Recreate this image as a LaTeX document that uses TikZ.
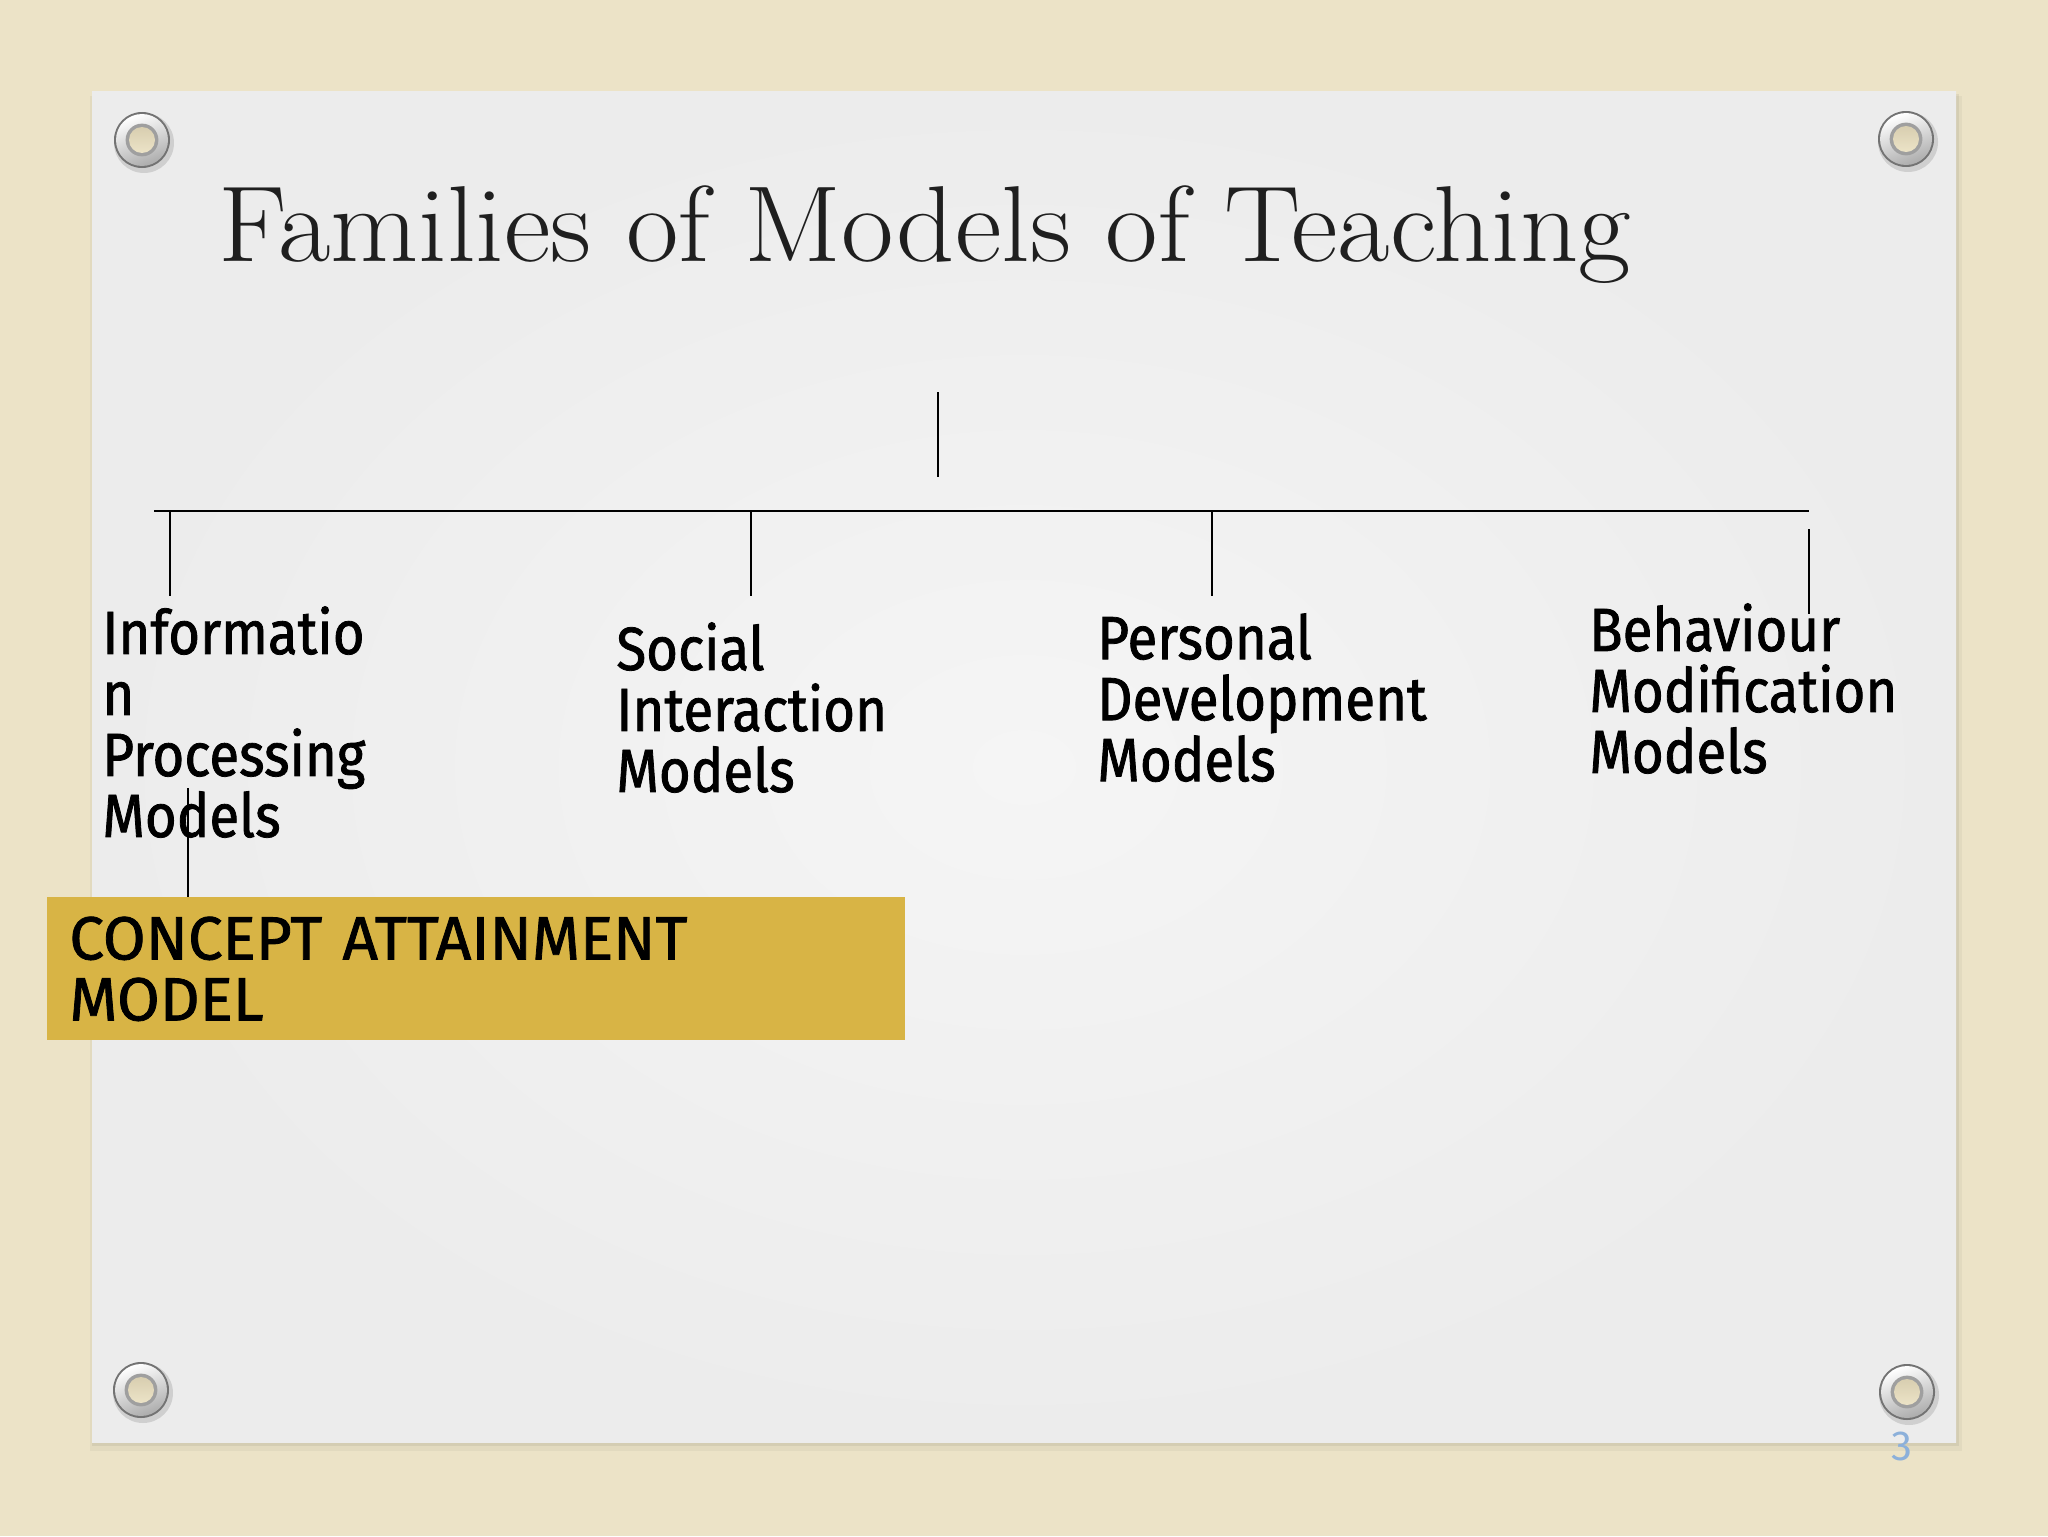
\documentclass[tikz,border=0pt]{standalone}
\usepackage{graphicx}
\usepackage{fontspec}
\newfontfamily\handfont[FakeStretch=0.895,FakeBold=1.3]{Fira Sans}
\newfontfamily\capsfont[FakeStretch=1.015,FakeBold=1.3]{Fira Sans}
\newfontfamily\numfont{Fira Sans}
\definecolor{canvas}{RGB}{236,227,199}
\definecolor{canvasdark}{RGB}{216,206,176}
\definecolor{slidein}{RGB}{245,245,245}
\definecolor{slideout}{RGB}{236,236,236}
\definecolor{gold}{RGB}{216,180,69}
\definecolor{pagenum}{RGB}{140,176,218}
\tikzset{
  lbl/.style={anchor=north west, inner sep=0pt, align=left, text=black,
    font=\handfont\fontsize{30.5}{30.5}\selectfont},
  conn/.style={draw=black, line width=0.75pt},
  bar/.style={draw=black, line width=1.2pt},
  goldbox/.style={anchor=north west, fill=gold, draw=none, inner xsep=11pt, inner ysep=0pt,
    text width=407pt, minimum height=71.5pt, align=left,
    font=\capsfont\fontsize{30.5}{30.5}\selectfont},
  titlefont/.style={anchor=base west, inner sep=0pt, font=\fontsize{54}{60}\selectfont, text=black!88}
}
\begin{document}
\begin{tikzpicture}[x=0.5pt,y=-0.5pt]
\useasboundingbox (0,0) rectangle (2048,1536);
% canvas background
\fill[canvas] (0,0) rectangle (2048,1536);
% slide shadow
\fill[black,opacity=0.04] (90,96) rectangle (1962,1451);
\fill[black,opacity=0.06] (92,94) rectangle (1959,1446);
% slide
\shade[inner color=slidein, outer color=slideout] (92,92) rectangle (1956,1442);
% grommets
\foreach \cx/\cy in {142/140, 1906/139, 141/1390, 1907/1392}{
  \fill[black,opacity=0.12] (\cx+2,\cy+3) circle (15pt);
  \fill[black!55] (\cx,\cy) circle (14pt);
  \shade[top color=white, bottom color=gray!65, shading angle=20] (\cx,\cy) circle (13pt);
  \fill[gray!75] (\cx,\cy) circle (8.2pt);
  \shade[top color=canvasdark, bottom color=canvas] (\cx,\cy) circle (6.5pt);
}
% title
\node[titlefont] (title) at (218,261) {\scalebox{1.057}[1]{Families of Models of Teaching}};
% tree skeleton coordinates
\coordinate (roottop) at (938,392);
\coordinate (rootbot) at (938,477);
\coordinate (barL) at (154,511);
\coordinate (barR) at (1809,511);
\coordinate (d1) at (170,511);
\coordinate (d2) at (751,511);
\coordinate (d3) at (1212,511);
\coordinate (d4) at (1809,529);
% labels
\node[lbl] (info) at (102,606) {Informatio\\n\\Processing\\Models};
\node[lbl] (social) at (616,622) {Social\\Interaction\\Models};
\node[lbl] (personal) at (1097,613) {Personal\\Development\\Models};
\node[lbl] (behav) at (1589,603) {Behaviour\\Modification\\Models};
% concept box
\node[goldbox] (concept) at (47,897) {CONCEPT ATTAINMENT\\MODEL};
% connectors
\draw[conn] (roottop) -- (rootbot);
\draw[bar] (barL) -- (barR);
\draw[conn] (d1) -- (170,596);
\draw[conn] (d2) -- (751,596);
\draw[conn] (d3) -- (1212,596);
\draw[conn] (d4) -- (1809,614);
\coordinate (c1) at (188,788);
\draw[conn] (c1) -- (c1 |- concept.north);
% page number
\node[anchor=base, inner sep=0pt, text=pagenum, font=\numfont\fontsize{21}{21}\selectfont] (pnum) at (1902,1460) {3};
\end{tikzpicture}
\end{document}
